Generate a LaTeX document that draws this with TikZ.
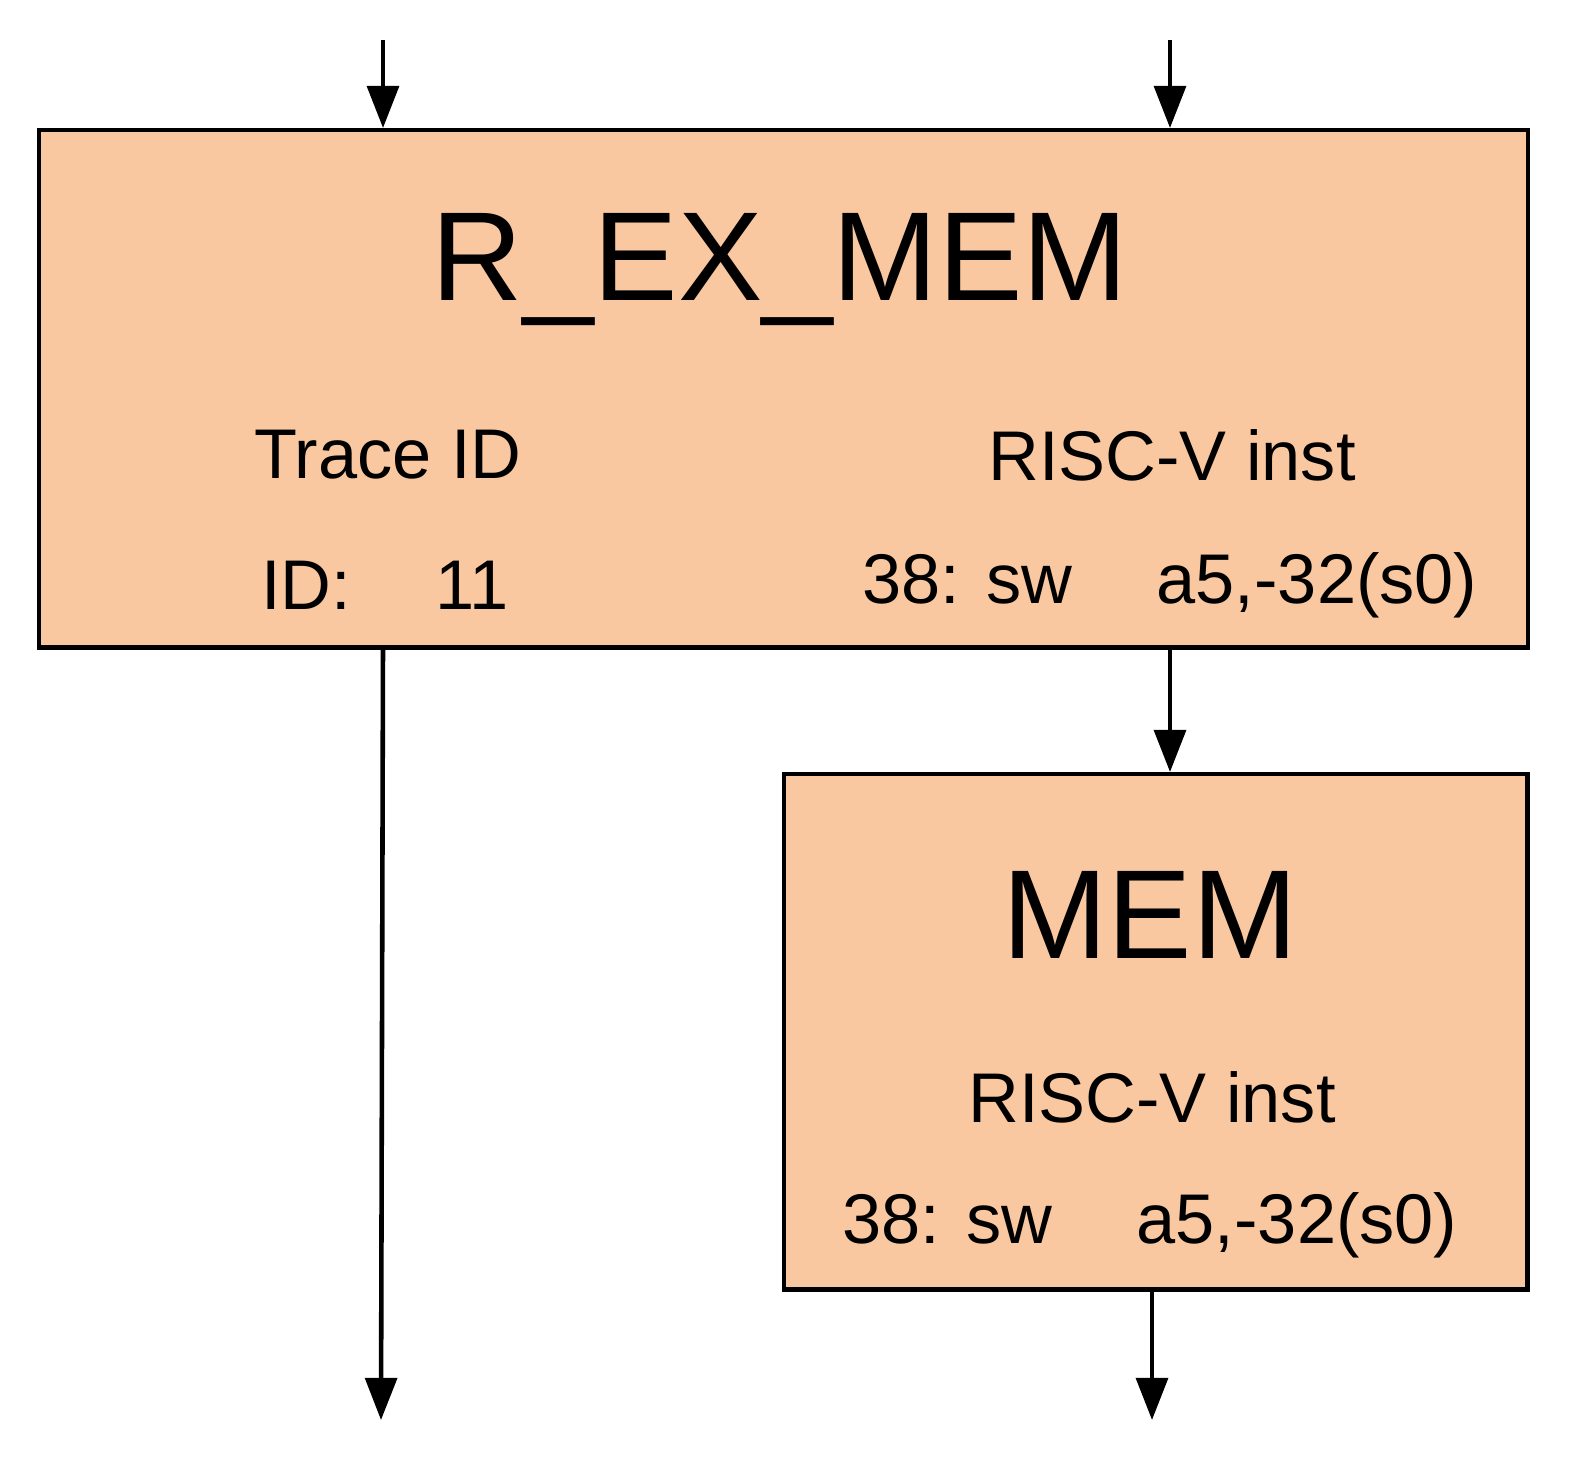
\documentclass[tikz,border=0pt]{standalone}
\usepackage{fontspec}
\setmainfont{Liberation Sans}
\usetikzlibrary{arrows.meta}
\begin{document}
\begin{tikzpicture}[x=0.01cm,y=-0.01cm,
  blk/.style={draw=black,line width=1.2pt,fill=boxfill},
  arr/.style={line width=1.3pt,-{Triangle[length=12pt,width=9pt]}},
  big/.style={font=\fontsize{36}{40}\selectfont},
  small/.style={font=\fontsize{20}{24}\selectfont}]
\definecolor{boxfill}{RGB}{250,200,160}
\useasboundingbox (0,0) rectangle (1582,1465);
\node[blk,minimum width=14.88cm,minimum height=5.17cm,anchor=north west] (rex) at (37,128) {};
\node[blk,minimum width=7.43cm,minimum height=5.15cm,anchor=north west] (mem) at (782,772) {};
\node[big] (t1) at (780,270) {R\_EX\_MEM};
\node[small] (t2) at (388,455) {Trace ID};
\node[small] (t3) at (1172,455) {RISC-V inst};
\node[small] (t4) at (385,585) {ID:\hspace{1.2em}11};
\node[small] (t5) at (1170,585) {38: sw\hspace{1.2em}a5,-32(s0)};
\node[big] (t6) at (1150,915) {MEM};
\node[small] (t7) at (1152,1097) {RISC-V inst};
\node[small] (t8) at (1150,1225) {38: sw\hspace{1.2em}a5,-32(s0)};
\coordinate (a1) at (383,40);
\coordinate (a2) at (1170,40);
\coordinate (b1) at (381,1420);
\coordinate (b2) at (1152,1420);
\draw[arr] (a1) -- (a1 |- rex.north);
\draw[arr] (a2) -- (a2 |- rex.north);
\draw[arr] (383,645) -- (b1);
\draw[arr] (1170,645) -- (1170,772);
\draw[arr] (b2 |- mem.south) -- (b2);
\end{tikzpicture}
\end{document}
